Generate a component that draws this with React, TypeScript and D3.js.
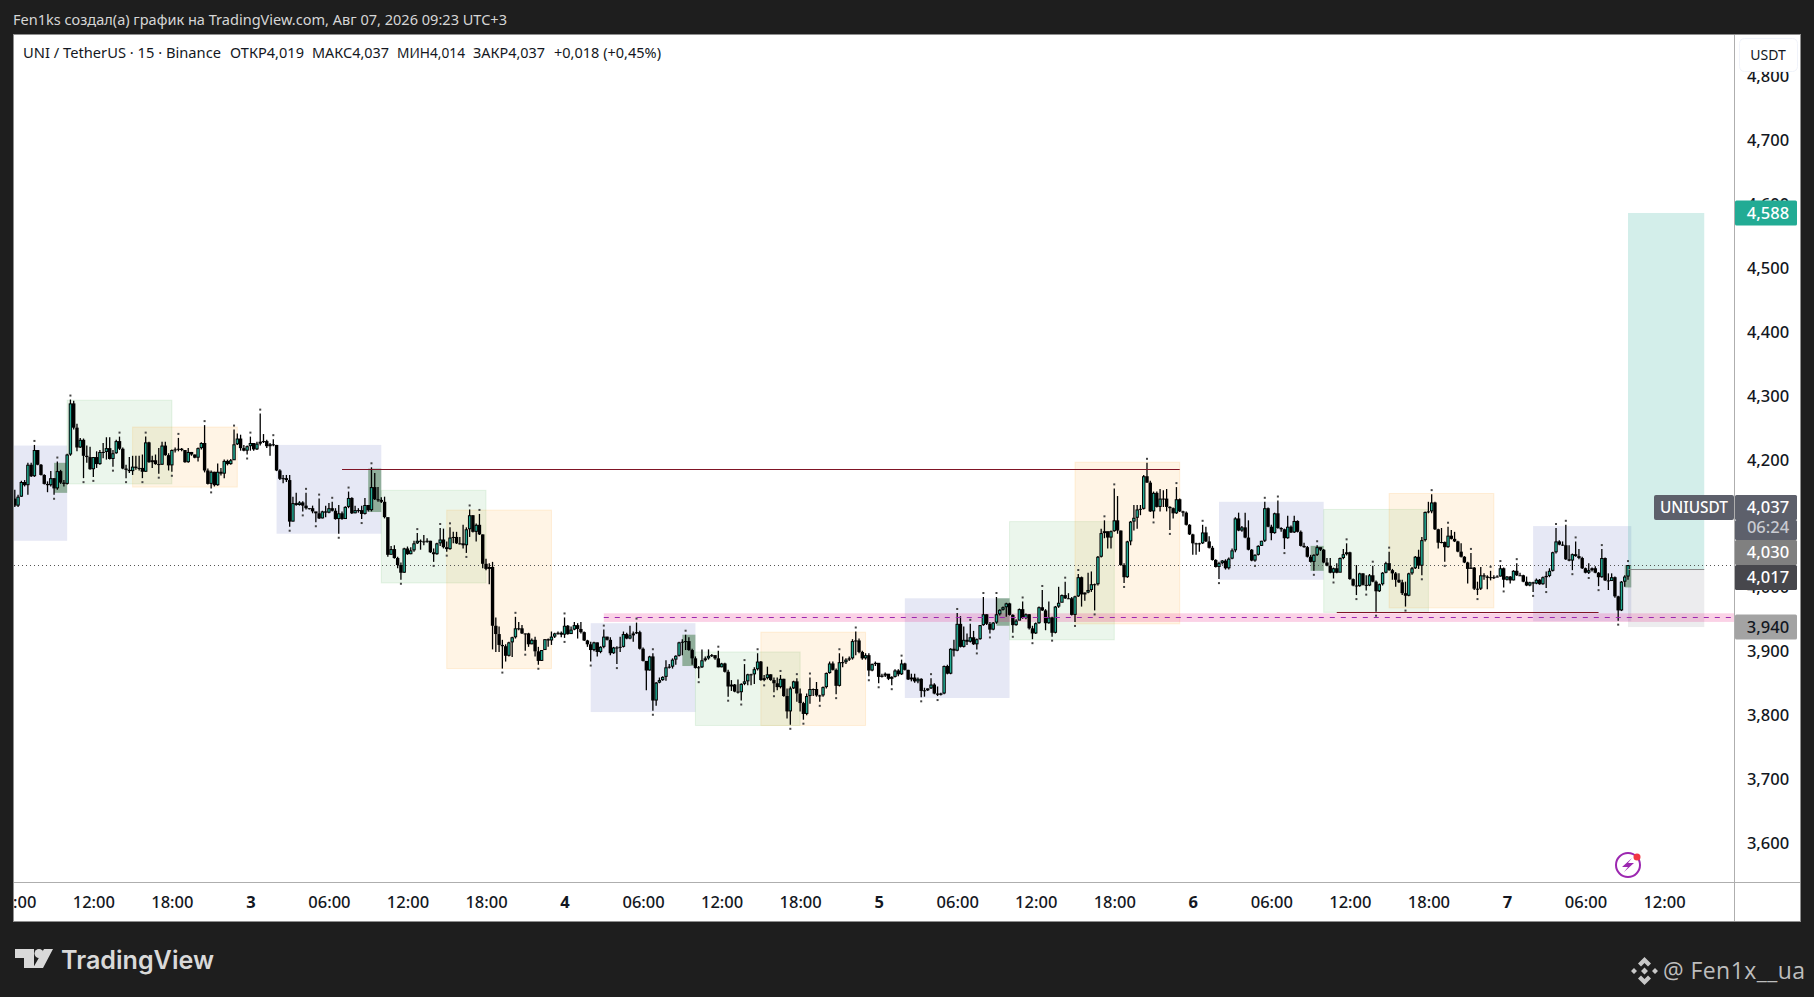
import { useEffect, useRef } from 'react';
import * as d3 from 'd3';

// UNI/USDT, 15 minute bars, prices in thousandths, first bar is Aug 2 06:00
const firstOpen = 4141;

const closes = [
  4130, 4144, 4167, 4162, 4194, 4176, 4217, 4194, 4178, 4164,
  4162, 4173, 4157, 4184, 4166, 4164, 4210, 4290, 4252, 4221,
  4233, 4208, 4206, 4187, 4206, 4195, 4214, 4214, 4220, 4203,
  4212, 4231, 4219, 4188, 4186, 4184, 4191, 4189, 4189, 4183,
  4229, 4198, 4201, 4195, 4194, 4224, 4209, 4193, 4217, 4218,
  4219, 4217, 4198, 4214, 4210, 4205, 4220, 4228, 4185, 4164,
  4183, 4162, 4183, 4180, 4200, 4195, 4201, 4226, 4235, 4220,
  4216, 4223, 4228, 4218, 4227, 4230, 4231, 4223, 4226, 4225,
  4185, 4172, 4173, 4170, 4105, 4134, 4131, 4135, 4130, 4126,
  4126, 4121, 4118, 4110, 4121, 4119, 4126, 4122, 4109, 4118,
  4109, 4128, 4142, 4118, 4123, 4123, 4117, 4131, 4123, 4159,
  4140, 4139, 4136, 4112, 4053, 4062, 4048, 4037, 4025, 4063,
  4054, 4060, 4071, 4075, 4074, 4074, 4075, 4057, 4054, 4071,
  4077, 4065, 4062, 4080, 4081, 4071, 4071, 4068, 4093, 4115,
  4089, 4100, 4085, 4039, 4031, 4034, 3942, 3929, 3912, 3910,
  3895, 3916, 3924, 3938, 3938, 3930, 3930, 3913, 3920, 3902,
  3887, 3904, 3921, 3919, 3925, 3930, 3931, 3928, 3942, 3929,
  3936, 3943, 3937, 3932, 3919, 3913, 3904, 3916, 3901, 3909,
  3925, 3920, 3899, 3908, 3908, 3909, 3929, 3922, 3927, 3930,
  3932, 3906, 3887, 3872, 3894, 3825, 3853, 3857, 3862, 3877,
  3878, 3889, 3895, 3916, 3917, 3918, 3904, 3891, 3876, 3877,
  3888, 3891, 3895, 3896, 3891, 3877, 3883, 3870, 3847, 3850,
  3839, 3838, 3851, 3855, 3866, 3866, 3874, 3886, 3857, 3860,
  3866, 3857, 3852, 3846, 3859, 3832, 3808, 3844, 3855, 3836,
  3821, 3804, 3832, 3843, 3843, 3833, 3833, 3846, 3868, 3883,
  3873, 3848, 3885, 3885, 3889, 3891, 3918, 3919, 3901, 3891,
  3896, 3872, 3882, 3884, 3862, 3864, 3867, 3859, 3862, 3872,
  3866, 3883, 3873, 3858, 3861, 3855, 3859, 3840, 3841, 3844,
  3850, 3836, 3834, 3836, 3879, 3867, 3906, 3903, 3945, 3909,
  3920, 3917, 3924, 3913, 3921, 3943, 3960, 3945, 3936, 3947,
  3960, 3967, 3971, 3977, 3959, 3943, 3950, 3968, 3954, 3960,
  3938, 3930, 3946, 3971, 3966, 3946, 3955, 3931, 3972, 3978,
  3990, 3985, 3985, 3959, 3988, 4018, 3991, 3994, 3998, 4007,
  4007, 4050, 4087, 4090, 4080, 4090, 4107, 4091, 4037, 4018,
  4074, 4105, 4111, 4124, 4125, 4176, 4166, 4121, 4150, 4128,
  4141, 4141, 4128, 4126, 4118, 4140, 4121, 4119, 4100, 4085,
  4071, 4070, 4071, 4088, 4074, 4064, 4045, 4034, 4040, 4044,
  4032, 4047, 4060, 4110, 4091, 4096, 4080, 4061, 4044, 4053,
  4067, 4075, 4126, 4097, 4087, 4118, 4095, 4093, 4079, 4097,
  4088, 4106, 4089, 4067, 4065, 4050, 4042, 4053, 4065, 4061,
  4041, 4036, 4025, 4032, 4025, 4048, 4054, 4057, 4015, 4005,
  4004, 4024, 4006, 4005, 4021, 4011, 3996, 4007, 4025, 4040,
  4029, 4024, 4014, 4010, 3993, 3989, 4024, 4032, 4050, 4036,
  4076, 4120, 4121, 4135, 4093, 4072, 4073, 4065, 4083, 4078,
  4074, 4058, 4050, 4041, 4031, 4033, 4000, 4000, 4021, 4019,
  4017, 4018, 4018, 4019, 4032, 4014, 4019, 4013, 4028, 4021,
  4021, 4011, 4005, 4010, 4008, 4014, 4007, 4018, 4020, 4028,
  4057, 4074, 4069, 4068, 4046, 4044, 4054, 4051, 4048, 4032,
  4025, 4029, 4032, 4025, 4018, 4048, 4013, 4012, 4018, 3988,
  3966, 4011, 4019, 4037,
];

const highs = [
  4155, 4147, 4169, 4170, 4197, 4197, 4225, 4217, 4195, 4179,
  4168, 4184, 4173, 4199, 4186, 4170, 4211, 4296, 4294, 4258,
  4236, 4235, 4224, 4222, 4206, 4215, 4217, 4228, 4237, 4237,
  4217, 4233, 4238, 4221, 4194, 4206, 4208, 4208, 4208, 4210,
  4238, 4230, 4208, 4210, 4220, 4230, 4230, 4212, 4218, 4221,
  4236, 4220, 4217, 4220, 4214, 4210, 4221, 4229, 4256, 4188,
  4185, 4183, 4196, 4189, 4202, 4202, 4203, 4249, 4243, 4241,
  4225, 4224, 4238, 4228, 4230, 4274, 4242, 4233, 4228, 4234,
  4225, 4187, 4178, 4178, 4178, 4144, 4150, 4137, 4137, 4150,
  4126, 4130, 4119, 4141, 4122, 4130, 4134, 4136, 4126, 4131,
  4121, 4129, 4152, 4143, 4130, 4126, 4130, 4142, 4131, 4190,
  4181, 4159, 4143, 4144, 4111, 4067, 4068, 4050, 4041, 4064,
  4066, 4065, 4075, 4087, 4077, 4084, 4079, 4075, 4063, 4072,
  4095, 4094, 4074, 4096, 4089, 4089, 4081, 4100, 4096, 4124,
  4115, 4102, 4117, 4085, 4047, 4040, 4042, 3955, 3941, 3920,
  3913, 3917, 3925, 3956, 3948, 3943, 3930, 3931, 3922, 3925,
  3909, 3904, 3921, 3922, 3933, 3931, 3933, 3933, 3955, 3943,
  3941, 3948, 3946, 3948, 3933, 3920, 3917, 3917, 3916, 3910,
  3936, 3925, 3924, 3909, 3910, 3925, 3933, 3931, 3942, 3933,
  3947, 3934, 3908, 3887, 3895, 3899, 3854, 3861, 3863, 3888,
  3882, 3891, 3896, 3917, 3921, 3928, 3924, 3906, 3894, 3879,
  3905, 3894, 3905, 3898, 3896, 3903, 3884, 3884, 3873, 3857,
  3851, 3858, 3852, 3882, 3867, 3867, 3877, 3899, 3887, 3865,
  3878, 3866, 3861, 3861, 3865, 3859, 3844, 3847, 3856, 3860,
  3844, 3823, 3836, 3861, 3844, 3854, 3834, 3847, 3869, 3886,
  3886, 3875, 3899, 3894, 3891, 3894, 3921, 3933, 3922, 3903,
  3899, 3899, 3883, 3886, 3881, 3867, 3869, 3866, 3863, 3874,
  3874, 3889, 3884, 3873, 3867, 3867, 3861, 3860, 3845, 3844,
  3860, 3852, 3847, 3837, 3880, 3881, 3907, 3920, 3962, 3957,
  3941, 3930, 3945, 3934, 3922, 3943, 3987, 3960, 3948, 3948,
  3987, 3968, 3972, 3978, 3978, 3960, 3952, 3969, 3980, 3961,
  3960, 3942, 3947, 3972, 3998, 3968, 3980, 3956, 3973, 4003,
  3991, 4011, 3993, 3987, 3989, 4023, 4019, 3994, 4025, 4027,
  4008, 4051, 4094, 4107, 4089, 4091, 4157, 4145, 4091, 4040,
  4075, 4106, 4131, 4131, 4131, 4178, 4197, 4169, 4152, 4152,
  4156, 4154, 4156, 4129, 4127, 4159, 4141, 4122, 4121, 4101,
  4086, 4072, 4072, 4100, 4097, 4082, 4067, 4046, 4042, 4045,
  4046, 4049, 4063, 4112, 4119, 4098, 4119, 4107, 4062, 4054,
  4068, 4075, 4136, 4127, 4100, 4119, 4138, 4096, 4094, 4114,
  4099, 4114, 4107, 4091, 4072, 4067, 4053, 4054, 4068, 4064,
  4062, 4048, 4048, 4033, 4040, 4049, 4062, 4071, 4058, 4016,
  4037, 4025, 4024, 4021, 4023, 4036, 4013, 4008, 4026, 4042,
  4058, 4031, 4026, 4024, 4014, 4011, 4025, 4034, 4051, 4061,
  4081, 4121, 4136, 4148, 4136, 4094, 4095, 4074, 4097, 4092,
  4089, 4075, 4071, 4051, 4042, 4056, 4034, 4011, 4034, 4024,
  4021, 4028, 4021, 4021, 4037, 4033, 4020, 4020, 4029, 4040,
  4025, 4022, 4019, 4011, 4011, 4016, 4015, 4019, 4027, 4032,
  4058, 4095, 4076, 4074, 4100, 4068, 4055, 4074, 4062, 4050,
  4033, 4040, 4033, 4035, 4026, 4062, 4049, 4024, 4024, 4019,
  3989, 4012, 4021, 4037,
];

const lows = [
  4128, 4128, 4144, 4160, 4147, 4175, 4175, 4193, 4177, 4163,
  4151, 4160, 4147, 4155, 4164, 4160, 4163, 4208, 4249, 4215,
  4220, 4173, 4197, 4186, 4175, 4189, 4194, 4204, 4202, 4202,
  4191, 4211, 4217, 4187, 4173, 4181, 4178, 4186, 4185, 4173,
  4183, 4197, 4189, 4194, 4180, 4194, 4208, 4185, 4183, 4213,
  4215, 4215, 4197, 4197, 4208, 4204, 4199, 4218, 4182, 4163,
  4157, 4160, 4161, 4177, 4173, 4193, 4194, 4202, 4225, 4216,
  4215, 4210, 4216, 4216, 4217, 4224, 4228, 4220, 4208, 4223,
  4184, 4170, 4165, 4167, 4097, 4105, 4130, 4130, 4121, 4124,
  4124, 4118, 4104, 4109, 4110, 4112, 4118, 4121, 4108, 4086,
  4108, 4109, 4126, 4117, 4118, 4119, 4109, 4116, 4121, 4121,
  4139, 4136, 4134, 4110, 4050, 4054, 4047, 4032, 4014, 4025,
  4053, 4054, 4058, 4070, 4061, 4068, 4072, 4056, 4042, 4053,
  4067, 4063, 4058, 4061, 4071, 4070, 4069, 4063, 4056, 4081,
  4088, 4074, 4084, 4032, 4029, 4007, 3905, 3901, 3901, 3875,
  3886, 3894, 3893, 3922, 3935, 3929, 3903, 3909, 3913, 3894,
  3881, 3887, 3904, 3909, 3912, 3923, 3928, 3924, 3923, 3928,
  3929, 3935, 3922, 3930, 3918, 3909, 3886, 3902, 3894, 3899,
  3907, 3919, 3896, 3898, 3882, 3901, 3908, 3921, 3921, 3917,
  3929, 3905, 3886, 3841, 3872, 3809, 3817, 3852, 3856, 3856,
  3875, 3875, 3881, 3894, 3896, 3904, 3903, 3881, 3875, 3860,
  3876, 3886, 3889, 3893, 3889, 3877, 3877, 3869, 3831, 3840,
  3838, 3836, 3825, 3849, 3849, 3849, 3851, 3872, 3856, 3855,
  3858, 3856, 3838, 3841, 3844, 3831, 3797, 3787, 3843, 3823,
  3808, 3795, 3802, 3820, 3832, 3831, 3823, 3831, 3844, 3867,
  3872, 3835, 3847, 3877, 3882, 3887, 3889, 3896, 3899, 3889,
  3889, 3863, 3871, 3879, 3852, 3861, 3862, 3857, 3849, 3861,
  3863, 3865, 3872, 3857, 3855, 3853, 3852, 3830, 3831, 3840,
  3843, 3835, 3832, 3833, 3835, 3866, 3866, 3894, 3902, 3908,
  3908, 3912, 3916, 3912, 3905, 3920, 3942, 3943, 3930, 3935,
  3945, 3958, 3966, 3956, 3958, 3931, 3942, 3951, 3953, 3952,
  3936, 3921, 3929, 3945, 3965, 3935, 3945, 3925, 3930, 3970,
  3979, 3984, 3984, 3958, 3948, 3987, 3972, 3981, 3993, 3995,
  3966, 4005, 4049, 4079, 4063, 4063, 4089, 4086, 4036, 4009,
  4017, 4068, 4091, 4094, 4115, 4124, 4166, 4120, 4110, 4127,
  4121, 4128, 4121, 4092, 4110, 4117, 4120, 4113, 4099, 4084,
  4053, 4053, 4058, 4070, 4073, 4063, 4044, 4033, 4015, 4038,
  4030, 4030, 4046, 4057, 4090, 4089, 4079, 4060, 4043, 4042,
  4052, 4067, 4073, 4096, 4076, 4086, 4094, 4089, 4062, 4078,
  4087, 4087, 4088, 4066, 4064, 4049, 4041, 4028, 4051, 4059,
  4040, 4035, 4024, 4016, 4024, 4027, 4046, 4052, 4014, 4004,
  3990, 4003, 4005, 3997, 4004, 4010, 3964, 3995, 4005, 4024,
  4028, 4014, 4003, 4009, 3990, 3972, 3988, 4022, 4031, 4031,
  4021, 4074, 4118, 4118, 4092, 4063, 4071, 4042, 4064, 4077,
  4073, 4057, 4049, 4040, 4008, 4032, 3998, 3990, 3998, 4014,
  3999, 4013, 4015, 4018, 4019, 4002, 4013, 4008, 4013, 4020,
  4020, 4010, 4004, 4004, 3995, 4007, 4006, 4006, 4001, 4018,
  4027, 4055, 4068, 4067, 4045, 4043, 4029, 4050, 4046, 4031,
  4024, 4023, 4027, 4024, 4004, 4017, 4012, 3998, 4012, 3986,
  3950, 3965, 4003, 4014,
];

// session boxes: [start bar, end bar, top price, bottom price]
const asiaBoxes = [
  [-16, 16, 4224, 4075],
  [80, 112, 4225, 4086],
  [176, 208, 3946, 3807],
  [272, 304, 3985, 3829],
  [368, 400, 4136, 4014],
  [464, 494, 4098, 3949],
];
const londonBoxes = [
  [16, 48, 4295, 4164],
  [112, 144, 4154, 4009],
  [208, 240, 3901, 3786],
  [304, 336, 4105, 3920],
  [400, 432, 4124, 3963],
];
const newYorkBoxes = [
  [36, 68, 4253, 4159],
  [132, 164, 4123, 3875],
  [228, 260, 3932, 3786],
  [324, 356, 4198, 3945],
  [420, 452, 4149, 3970],
];
const killzoneBoxes = [
  [12, 16, 4197, 4150],
  [108, 112, 4188, 4120],
  [204, 208, 3928, 3879],
  [300, 304, 3985, 3942],
  [396, 400, 4067, 4028],
  [492, 494, 4037, 4002],
];

// [start bar, end bar, price]
const levelLines = [
  [100, 356, 4188],
  [404, 484, 3963],
];

const zoneStart = 180;
const zoneTop = 3961.5;
const zoneMid = 3955;
const zoneBottom = 3948;

const positionStart = 493;
const positionEnd = 516.3;
const targetPrice = 4588;
const entryPrice = 4030;
const stopPrice = 3940;
const lastPrice = 4037;
const markedPrice = 4017;

const priceTicks = [4.8, 4.7, 4.6, 4.5, 4.4, 4.3, 4.2, 4.1, 4.0, 3.9, 3.8, 3.7, 3.6];
const timeBars = [0, 24, 48, 72, 96, 120, 144, 168, 192, 216, 240, 264, 288, 312, 336, 360, 384, 408, 432, 456, 480, 504];
const timeLabels = [
  '06:00', '12:00', '18:00', '3', '06:00', '12:00', '18:00', '4', '06:00', '12:00', '18:00',
  '5', '06:00', '12:00', '18:00', '6', '06:00', '12:00', '18:00', '7', '06:00', '12:00',
];

const legendParts = [
  'UNI / TetherUS · 15 · Binance',
  'ОТКР4,019',
  'МАКС4,037',
  'МИН4,014',
  'ЗАКР4,037',
  '+0,018 (+0,45%)',
];
const legendStarts = [23, 230, 312, 397, 473, 554];
const legendWidths = [198, 74, 77, 68, 72, 107];

const FONT = '"Noto Sans", sans-serif';
const TEXT = '#131722';
const UP = '#22ab94';

const CHART_LEFT = 14;
const CHART_TOP = 35;
const CHART_RIGHT = 1800;
const CHART_BOTTOM = 921;
const AXIS_X = 1734;
const AXIS_Y = 882;

const priceText = (v: number) => d3.format('.3f')(v).replace('.', ',');

export default function App() {
  const plotRef = useRef<SVGGElement>(null);
  const axisRef = useRef<SVGGElement>(null);

  useEffect(() => {
    if (!plotRef.current || !axisRef.current) {
      return;
    }

    const x = d3.scaleLinear().domain([0, 504]).range([14.8, 1664]);
    const y = d3.scaleLinear().domain([3.6, 4.8]).range([844.3, 77.5]);
    const yT = (v: number) => y(v / 1000);

    const plot = d3.select(plotRef.current);
    plot.selectAll('*').remove();
    const axes = d3.select(axisRef.current);
    axes.selectAll('*').remove();

    const drawBoxes = (boxes: number[][], fill: string, stroke: string) => {
      plot
        .append('g')
        .selectAll('rect')
        .data(boxes)
        .join('rect')
        .attr('x', (d) => x(d[0]))
        .attr('y', (d) => yT(d[2]))
        .attr('width', (d) => x(d[1]) - x(d[0]))
        .attr('height', (d) => yT(d[3]) - yT(d[2]))
        .attr('fill', fill)
        .attr('stroke', stroke);
    };

    drawBoxes(asiaBoxes, 'rgba(63,81,181,0.13)', 'none');
    drawBoxes(londonBoxes, 'rgba(76,175,80,0.11)', 'rgba(76,175,80,0.13)');
    drawBoxes(newYorkBoxes, 'rgba(255,152,0,0.1)', 'rgba(255,152,0,0.13)');
    drawBoxes(killzoneBoxes, 'rgba(27,94,32,0.42)', 'none');

    // long position tool
    const posX = x(positionStart);
    const posW = x(positionEnd) - posX;
    plot
      .append('rect')
      .attr('x', posX)
      .attr('y', yT(targetPrice))
      .attr('width', posW)
      .attr('height', yT(entryPrice) - yT(targetPrice))
      .attr('fill', 'rgba(34,171,148,0.2)');
    plot
      .append('rect')
      .attr('x', posX)
      .attr('y', yT(entryPrice))
      .attr('width', posW)
      .attr('height', yT(stopPrice) - yT(entryPrice))
      .attr('fill', 'rgba(120,123,134,0.14)');

    // pink zone
    plot
      .append('rect')
      .attr('x', x(zoneStart))
      .attr('y', yT(zoneTop))
      .attr('width', AXIS_X - x(zoneStart))
      .attr('height', yT(zoneBottom) - yT(zoneTop))
      .attr('fill', 'rgba(233,30,130,0.2)');

    // last price line
    plot
      .append('line')
      .attr('x1', CHART_LEFT)
      .attr('x2', AXIS_X)
      .attr('y1', Math.round(yT(lastPrice)) + 0.5)
      .attr('y2', Math.round(yT(lastPrice)) + 0.5)
      .attr('stroke', '#555')
      .attr('stroke-dasharray', '1 3');

    // candles
    const opens = closes.map((_, i) => (i === 0 ? firstOpen : closes[i - 1]));
    const barsG = plot.append('g');
    closes.forEach((close, i) => {
      const open = opens[i];
      const bx = x(i);
      barsG
        .append('line')
        .attr('x1', bx)
        .attr('x2', bx)
        .attr('y1', yT(highs[i]))
        .attr('y2', yT(lows[i]))
        .attr('stroke', '#000')
        .attr('stroke-width', 1.3);
      const top = yT(Math.max(open, close));
      const height = Math.max(1, yT(Math.min(open, close)) - top);
      barsG
        .append('rect')
        .attr('x', bx - 1.7)
        .attr('y', top)
        .attr('width', 3.4)
        .attr('height', height)
        .attr('fill', '#000');
      if (close > open && height > 2) {
        barsG
          .append('rect')
          .attr('x', bx - 0.75)
          .attr('y', top + 1)
          .attr('width', 1.5)
          .attr('height', height - 2)
          .attr('fill', UP);
      }
    });

    // swing markers
    const isSwing = (arr: number[], i: number, sign: number) => {
      for (let k = Math.max(0, i - 2); k <= Math.min(arr.length - 1, i + 2); k++) {
        if (k !== i && sign * arr[k] >= sign * arr[i]) {
          return false;
        }
      }
      return true;
    };
    closes.forEach((_, i) => {
      if (isSwing(highs, i, 1)) {
        barsG
          .append('rect')
          .attr('x', x(i) - 1)
          .attr('y', yT(highs[i]) - 5)
          .attr('width', 2)
          .attr('height', 2)
          .attr('fill', '#444');
      }
      if (isSwing(lows, i, -1)) {
        barsG
          .append('rect')
          .attr('x', x(i) - 1)
          .attr('y', yT(lows[i]) + 3)
          .attr('width', 2)
          .attr('height', 2)
          .attr('fill', '#444');
      }
    });

    // level lines and zone dashes over the candles
    plot
      .append('g')
      .selectAll('line')
      .data(levelLines)
      .join('line')
      .attr('x1', (d) => x(d[0]))
      .attr('x2', (d) => x(d[1]))
      .attr('y1', (d) => Math.round(yT(d[2])) + 0.5)
      .attr('y2', (d) => Math.round(yT(d[2])) + 0.5)
      .attr('stroke', '#7f1425');
    plot
      .append('line')
      .attr('x1', x(zoneStart))
      .attr('x2', AXIS_X)
      .attr('y1', Math.round(yT(zoneMid)) + 0.5)
      .attr('y2', Math.round(yT(zoneMid)) + 0.5)
      .attr('stroke', '#9c27b0')
      .attr('stroke-dasharray', '5 6');
    plot
      .append('line')
      .attr('x1', posX)
      .attr('x2', posX + posW)
      .attr('y1', yT(entryPrice))
      .attr('y2', yT(entryPrice))
      .attr('stroke', '#888');

    // axes
    const priceAxis = d3
      .axisRight(y)
      .tickValues(priceTicks)
      .tickSize(0)
      .tickPadding(0)
      .tickFormat((v) => priceText(+v));
    const pa = axes
      .append('g')
      .attr('transform', 'translate(1768,-1)')
      .call(priceAxis);
    pa.select('.domain').remove();
    pa.selectAll('text')
      .attr('text-anchor', 'middle')
      .attr('font-family', FONT)
      .attr('font-size', 16.5)
      .attr('font-weight', 500)
      .attr('fill', TEXT);

    const timeAxis = d3
      .axisBottom(x)
      .tickValues(timeBars)
      .tickSize(0)
      .tickPadding(0)
      .tickFormat((_, k) => timeLabels[k]);
    const ta = axes
      .append('g')
      .attr('clip-path', 'url(#timeClip)')
      .append('g')
      .attr('transform', 'translate(0,896)')
      .call(timeAxis);
    ta.select('.domain').remove();
    ta.selectAll<SVGTextElement, number>('text')
      .attr('font-family', FONT)
      .attr('font-size', 16.5)
      .attr('fill', TEXT)
      .attr('font-weight', (_, k) => (timeLabels[k].length === 1 ? 700 : 500));

    // price tags on the axis
    const tag = (
      top: number,
      height: number,
      fill: string,
      label: string,
      color: string,
      textY = top + height / 2,
    ) => {
      axes
        .append('rect')
        .attr('x', AXIS_X + 1)
        .attr('y', top)
        .attr('width', 62)
        .attr('height', height)
        .attr('rx', 1.5)
        .attr('fill', fill);
      axes
        .append('text')
        .attr('x', 1768)
        .attr('y', textY)
        .attr('dy', '0.35em')
        .attr('text-anchor', 'middle')
        .attr('font-family', FONT)
        .attr('font-size', 16.5)
        .attr('font-weight', 500)
        .attr('fill', color)
        .text(label);
    };
    const targetY = yT(targetPrice);
    tag(targetY - 12.5, 25, UP, priceText(targetPrice / 1000), '#fff');
    tag(495, 25, '#5d606b', priceText(lastPrice / 1000), '#fff');
    tag(520, 20, '#5d606b', '06:24', '#c9cbd1', 527);
    tag(540, 25, '#808080', priceText(entryPrice / 1000), '#fff');
    tag(565, 25, '#47474c', priceText(markedPrice / 1000), '#fff');
    tag(yT(stopPrice) - 12.5, 25, '#a3a3a3', priceText(stopPrice / 1000), TEXT);
  }, []);

  return (
    <svg
      width={1814}
      height={997}
      style={{ position: 'absolute', left: 0, top: 0, display: 'block' }}
    >
      <defs>
        <clipPath id="plotClip">
          <rect x={CHART_LEFT} y={CHART_TOP} width={AXIS_X - CHART_LEFT} height={AXIS_Y - CHART_TOP} />
        </clipPath>
        <clipPath id="timeClip">
          <rect x={CHART_LEFT} y={AXIS_Y} width={AXIS_X - CHART_LEFT} height={CHART_BOTTOM - AXIS_Y} />
        </clipPath>
      </defs>

      <rect width={1814} height={997} fill="#1e1e1e" />
      <rect
        x={CHART_LEFT - 0.5}
        y={CHART_TOP - 0.5}
        width={CHART_RIGHT - CHART_LEFT + 1}
        height={CHART_BOTTOM - CHART_TOP + 1}
        fill="#fff"
        stroke="#8f8f8f"
      />

      <g ref={plotRef} clipPath="url(#plotClip)" />

      <line x1={AXIS_X + 0.5} x2={AXIS_X + 0.5} y1={CHART_TOP} y2={CHART_BOTTOM} stroke="#aeaeae" />
      <line x1={CHART_LEFT} x2={CHART_RIGHT} y1={AXIS_Y + 0.5} y2={AXIS_Y + 0.5} stroke="#aeaeae" />

      <g ref={axisRef} />

      {/* instrument tag next to the last price */}
      <rect x={1654} y={495} width={80} height={25} rx={2} fill="#5d606b" />
      <text x={1660} y={507.5} dy="0.35em" fontFamily={FONT} fontSize={15.5} fontWeight={500} fill="#fff" textLength={68} lengthAdjust="spacingAndGlyphs">
        UNIUSDT
      </text>

      {/* currency button */}
      <rect x={1739.5} y={38.5} width={58} height={33} rx={5} fill="#fff" stroke="#f0f3fa" />
      <text x={1768} y={55} dy="0.35em" textAnchor="middle" fontFamily={FONT} fontSize={14} fill={TEXT}>
        USDT
      </text>

      {/* headers */}
      <text x={13} y={25} fontFamily={FONT} fontSize={13.5} fill="#d6d6d6" textLength={494} lengthAdjust="spacingAndGlyphs">
        Fen1ks создал(а) график на TradingView.com, Авг 07, 2026 09:23 UTC+3
      </text>
      {legendParts.map((part, i) => (
        <text
          key={part}
          x={legendStarts[i]}
          y={58}
          fontFamily={FONT}
          fontSize={13.5}
          fill={TEXT}
          textLength={legendWidths[i]}
          lengthAdjust="spacingAndGlyphs"
        >
          {part}
        </text>
      ))}

      {/* lightning badge */}
      <circle cx={1628} cy={865} r={12} fill="none" stroke="#9c27b0" strokeWidth={2} />
      <path d="M1632 858 L1622 867 L1628 867 L1624 872 L1634 863 L1628 863 Z" fill="#9c27b0" />
      <circle cx={1637} cy={857} r={3.5} fill="#f23645" />

      {/* TradingView logo */}
      <path d="M15 949 H34 V968 H24 V958 H15 Z M44 949 H53 L43 968 H33 Z" fill="#d9d9d9" />
      <circle cx={39} cy={953.5} r={4.5} fill="#d9d9d9" />
      <text x={61} y={969} fontFamily="Inter, sans-serif" fontSize={25} fontWeight={600} fill="#d9d9d9" textLength={153} lengthAdjust="spacingAndGlyphs">
        TradingView
      </text>

      {/* watermark */}
      <path
        d="M1644.5 957 L1651 963.5 L1648 966.5 L1644.5 963 L1641 966.5 L1638 963.5 Z M1634 968 L1637 971 L1634 974 L1631 971 Z M1655 968 L1658 971 L1655 974 L1652 971 Z M1644.5 967.5 L1648 971 L1644.5 974.5 L1641 971 Z M1641 975.5 L1644.5 979 L1648 975.5 L1651 978.5 L1644.5 985 L1638 978.5 Z"
        fill="#c8c8c8"
      />
      <text x={1663} y={979} fontFamily='"Open Sans", sans-serif' fontSize={23} fill="#bdbdbd" textLength={142} lengthAdjust="spacing">
        @ Fen1x__ua
      </text>
    </svg>
  );
}
